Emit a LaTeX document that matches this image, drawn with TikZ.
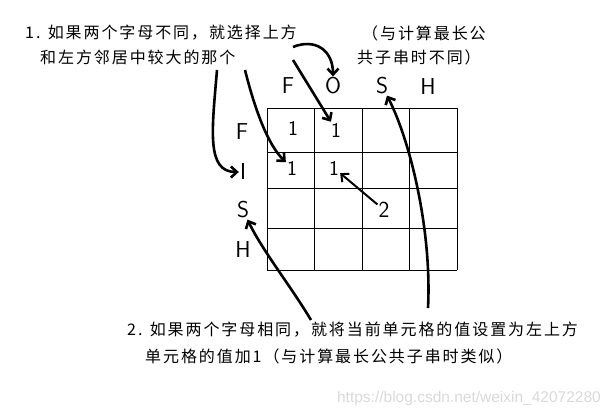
\documentclass[tikz,border=0pt]{standalone}
\usepackage{fontspec}
\newfontfamily\cjk[LetterSpace=12]{Noto Sans CJK SC}
\newfontfamily\wmfont{Liberation Sans}
\usetikzlibrary{arrows.meta}

\begin{document}
\begin{tikzpicture}[
		x=1pt,y=-1pt,
		every node/.style={inner sep=1pt},
		lbl/.style={font=\sffamily\fontsize{23}{23}\selectfont},
		val/.style={font=\sffamily\fontsize{21}{21}\selectfont},
		note/.style={font=\cjk\fontsize{16}{16}\selectfont,anchor=west,inner sep=0pt},
		hand/.style={line width=2.6pt,-{Straight Barb[length=6pt,width=11pt]}},
		gridline/.style={line width=0.9pt}
		]
		\useasboundingbox (0,0) rectangle (610,416);
		% table
		\foreach \x in {267,314,362,409,457}
			\draw[gridline] (\x,108) -- (\x,270);
		\foreach \y in {108,152,188,228,270}
			\draw[gridline] (267,\y) -- (457,\y);
		% letters
		\node[lbl] (cF) at (288,86) {F};
		\node[lbl] (cO) at (333,86) {O};
		\node[lbl] (cS) at (382,86) {S};
		\node[lbl] (cH) at (428,87) {H};
		\node[lbl] (rF) at (242,132) {F};
		\node[lbl] (rI) at (243,172) {I};
		\node[lbl] (rS) at (243,210) {S};
		\node[lbl] (rH) at (243,250) {H};
		% values
		\node[val] (v11) at (293,128) {1};
		\node[val] (v12) at (336,130) {1};
		\node[val] (v21) at (292,168) {1};
		\node[val] (v22) at (334,168) {1};
		\node[lbl] (two) at (384,210) {2};
		% notes
		\node[note] (n1a) at (25,33) {1. 如果两个字母不同，就选择上方};
		\node[note] (n1b) at (40,57) {和左方邻居中较大的那个};
		\node[note] (n2a) at (362,33) {（与计算最长公};
		\node[note] (n2b) at (357,57) {共子串时不同）};
		\node[note] (n3a) at (127,330) {2. 如果两个字母相同，就将当前单元格的值设置为左上方};
		\node[note] (n3b) at (145,356) {单元格的值加1（与计算最长公共子串时类似）};
		\node[font=\wmfont\fontsize{15.5}{15.5}\selectfont,text=gray!30,anchor=east] (wm) at (602,398) {https://blog.csdn.net/weixin\_42072280};
		% arrows
		\coordinate (s1) at (217,70);
		\coordinate (s2) at (245,70);
		\coordinate (s3) at (293,60);
		\coordinate (s4) at (293,47);
		\coordinate (s5) at (428,308);
		\coordinate (s6) at (311,320);
		\draw[hand] (s1) .. controls (212,130) and (206,172) .. (rI);
		\draw[hand] (s2) .. controls (255,110) and (268,145) .. (v21);
		\draw[hand] (s3) -- (v12);
		\draw[hand] (s4) .. controls (315,38) and (333,50) .. (cO);
		\draw[hand] (s5) .. controls (432,230) and (410,140) .. (cS);
		\draw[hand] (s6) .. controls (290,285) and (262,250) .. (rS);
		\draw[hand,line width=2pt] (two) -- (v22);
	\end{tikzpicture}
\end{document}
